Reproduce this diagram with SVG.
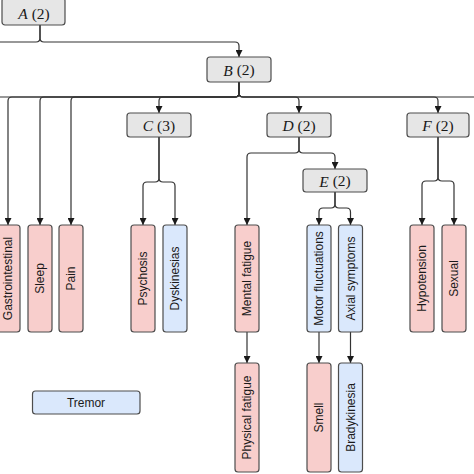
<svg xmlns="http://www.w3.org/2000/svg" width="474" height="474" viewBox="0 0 474 474">
<defs>
<marker id="arr" viewBox="0 0 10 10" refX="10" refY="5" markerWidth="7" markerHeight="7" markerUnits="userSpaceOnUse" orient="auto">
<path d="M0,0 L10,5 L0,10 Z" fill="#1a1a1a"/>
</marker>
<style>
.g{fill:#e6e6e6;stroke:#4d4d4d;stroke-width:1.2}
.r{fill:#f8cecc;stroke:#4d4d4d;stroke-width:1.2}
.b{fill:#dae8fc;stroke:#4d4d4d;stroke-width:1.2}
.m{font-family:"Liberation Serif","DejaVu Serif",serif;font-size:15.5px;fill:#1a1a1a;text-anchor:middle;dominant-baseline:central}
.m tspan.i{font-style:italic}
.t{font-family:"Liberation Sans",Arial,sans-serif;font-size:12px;fill:#1a1a1a;text-anchor:middle;dominant-baseline:central}
.e{fill:none;stroke:#333;stroke-width:1.2}
</style>
</defs>
<rect width="474" height="474" fill="#fff"/>
<g id="connectors">
<path class="e" d="M40,25 V38 Q40,42 36,42 H-10"/>
<path class="e" d="M40,25 V38 Q40,42 44,42 H235 Q239,42 239,46 V57" marker-end="url(#arr)"/>
<path class="e" d="M239,82 V93 Q239,97 235,97 H-10"/>
<path class="e" d="M239,82 V93 Q239,97 243,97 H484"/>
<path class="e" d="M239,82 V93 Q239,97 235,97 H12 Q8,97 8,101 V225" marker-end="url(#arr)"/>
<path class="e" d="M239,82 V93 Q239,97 235,97 H44 Q40,97 40,101 V225" marker-end="url(#arr)"/>
<path class="e" d="M239,82 V93 Q239,97 235,97 H75 Q71,97 71,101 V225" marker-end="url(#arr)"/>
<path class="e" d="M239,82 V93 Q239,97 235,97 H163 Q159,97 159,101 V113" marker-end="url(#arr)"/>
<path class="e" d="M239,82 V93 Q239,97 243,97 H295 Q299,97 299,101 V113" marker-end="url(#arr)"/>
<path class="e" d="M239,82 V93 Q239,97 243,97 H434 Q438,97 438,101 V113" marker-end="url(#arr)"/>
<path class="e" d="M159,137 V178 Q159,182 155,182 H147 Q143,182 143,186 V225" marker-end="url(#arr)"/>
<path class="e" d="M159,137 V178 Q159,182 163,182 H171 Q175,182 175,186 V225" marker-end="url(#arr)"/>
<path class="e" d="M299,137 V149 Q299,153 295,153 H251 Q247,153 247,157 V225" marker-end="url(#arr)"/>
<path class="e" d="M299,137 V149 Q299,153 303,153 H331 Q335,153 335,157 V169" marker-end="url(#arr)"/>
<path class="e" d="M335,192 V204 Q335,208 331,208 H323 Q319,208 319,212 V225" marker-end="url(#arr)"/>
<path class="e" d="M335,192 V204 Q335,208 339,208 H346.5 Q350.5,208 350.5,212 V225" marker-end="url(#arr)"/>
<path class="e" d="M438,137 V177 Q438,181 434,181 H426 Q422,181 422,185 V225" marker-end="url(#arr)"/>
<path class="e" d="M438,137 V177 Q438,181 442,181 H450 Q454,181 454,185 V225" marker-end="url(#arr)"/>
<path class="e" d="M247,332 V363" marker-end="url(#arr)"/>
<path class="e" d="M319,332 V363" marker-end="url(#arr)"/>
<path class="e" d="M350.5,332 V363" marker-end="url(#arr)"/>
</g>
<g id="nA"><rect class="g" x="2" y="-2" width="63" height="27" rx="3"/><text class="m" x="34" y="13"><tspan class="i">A</tspan> (2)</text></g>
<g id="nB"><rect class="g" x="207" y="57" width="64" height="25" rx="3"/><text class="m" x="239" y="69.5"><tspan class="i">B</tspan> (2)</text></g>
<g id="nC"><rect class="g" x="127" y="113" width="64" height="24" rx="3"/><text class="m" x="159" y="125"><tspan class="i">C</tspan> (3)</text></g>
<g id="nD"><rect class="g" x="267" y="113" width="64" height="24" rx="3"/><text class="m" x="299" y="125"><tspan class="i">D</tspan> (2)</text></g>
<g id="nF"><rect class="g" x="407" y="113" width="62" height="24" rx="3"/><text class="m" x="438" y="125"><tspan class="i">F</tspan> (2)</text></g>
<g id="nE"><rect class="g" x="303" y="169" width="64" height="23" rx="3"/><text class="m" x="335" y="180.5"><tspan class="i">E</tspan> (2)</text></g>
<g id="nGastro"><rect class="r" x="-4" y="225" width="24" height="107" rx="3"/><text class="t" transform="translate(8,278.5) rotate(-90)">Gastrointestinal</text></g>
<g id="nSleep"><rect class="r" x="28" y="225" width="24" height="107" rx="3"/><text class="t" transform="translate(40,278.5) rotate(-90)">Sleep</text></g>
<g id="nPain"><rect class="r" x="59" y="225" width="24" height="107" rx="3"/><text class="t" transform="translate(71,278.5) rotate(-90)">Pain</text></g>
<g id="nPsychosis"><rect class="r" x="131" y="225" width="24" height="107" rx="3"/><text class="t" transform="translate(143,278.5) rotate(-90)">Psychosis</text></g>
<g id="nDyskinesias"><rect class="b" x="163" y="225" width="24" height="107" rx="3"/><text class="t" transform="translate(175,278.5) rotate(-90)">Dyskinesias</text></g>
<g id="nMental"><rect class="r" x="235" y="225" width="24" height="107" rx="3"/><text class="t" transform="translate(247,278.5) rotate(-90)">Mental fatigue</text></g>
<g id="nMotor"><rect class="b" x="307" y="225" width="24" height="107" rx="3"/><text class="t" transform="translate(319,278.5) rotate(-90)">Motor fluctuations</text></g>
<g id="nAxial"><rect class="b" x="338.5" y="225" width="24" height="107" rx="3"/><text class="t" transform="translate(350.5,278.5) rotate(-90)">Axial symptoms</text></g>
<g id="nHypotension"><rect class="r" x="410" y="225" width="24" height="107" rx="3"/><text class="t" transform="translate(422,278.5) rotate(-90)">Hypotension</text></g>
<g id="nSexual"><rect class="r" x="442" y="225" width="24" height="107" rx="3"/><text class="t" transform="translate(454,278.5) rotate(-90)">Sexual</text></g>
<g id="nPhysical"><rect class="r" x="235" y="363" width="24" height="109" rx="3"/><text class="t" transform="translate(247,417.5) rotate(-90)">Physical fatigue</text></g>
<g id="nSmell"><rect class="r" x="307" y="363" width="24" height="109" rx="3"/><text class="t" transform="translate(319,417.5) rotate(-90)">Smell</text></g>
<g id="nBrady"><rect class="b" x="338.5" y="363" width="24" height="109" rx="3"/><text class="t" transform="translate(350.5,417.5) rotate(-90)">Bradykinesia</text></g>
<g id="nTremor"><rect class="b" x="32.5" y="391" width="107.5" height="23" rx="3"/><text class="t" x="86" y="402.5">Tremor</text></g>
</svg>
